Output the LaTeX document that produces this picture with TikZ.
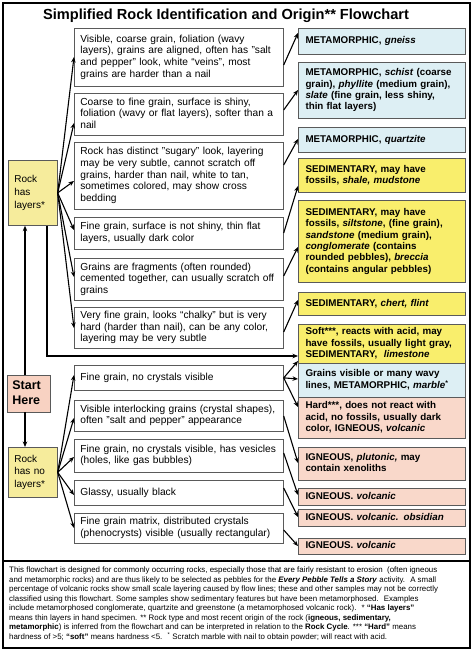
\documentclass[tikz,border=0pt]{standalone}
\usepackage{fontspec}
\setmainfont{Liberation Sans}
\usetikzlibrary{arrows.meta}
\definecolor{metablue}{HTML}{DDEFF4}
\definecolor{sedyel}{HTML}{F9EE6C}
\definecolor{layyel}{HTML}{F6EC9C}
\definecolor{igpink}{HTML}{F9D8CA}
\definecolor{startpink}{HTML}{F8D2C2}
\definecolor{boxline}{HTML}{5A5A5A}
\newcommand\bx[1]{\begin{tabular}{@{}l@{}}#1\end{tabular}}
\begin{document}
\begin{tikzpicture}[x=1pt,y=-1pt,
  midbox/.style={draw=boxline, line width=0.7pt, fill=white, anchor=north west,
    minimum width=209pt, text width=197pt, inner xsep=6pt, inner ysep=1pt, align=left,
    font=\fontsize{10.2}{11.6}\selectfont},
  resbox/.style={draw=boxline, line width=1pt, anchor=north west,
    minimum width=167pt, text width=153pt, inner xsep=7pt, inner ysep=1pt, align=left,
    font=\bfseries\fontsize{9.8}{11.4}\selectfont},
  meta/.style={resbox, fill=metablue},
  sed/.style={resbox, fill=sedyel},
  ign/.style={resbox, fill=igpink},
  arr/.style={-{Stealth[length=5.5pt,width=4.5pt]}, line width=1.1pt},
]
\useasboundingbox (0,0) rectangle (474,655);
\fill[white] (0,0) rectangle (474,655);
\draw[line width=1.4pt] (3,3) rectangle (470,648);
\draw[line width=2pt] (3,561) -- (470,561);

\node[font=\bfseries\fontsize{14.6}{17}\selectfont] (title) at (226,16)
  {Simplified Rock Identification and Origin** Flowchart};

% left column
\node[draw=boxline, line width=0.7pt, fill=layyel, anchor=north west, minimum width=49pt,
  minimum height=65pt, text width=37pt, inner xsep=6pt, align=left,
  font=\fontsize{10}{13}\selectfont] (L1) at (8,160) {\bx{Rock\\has\\layers*}};
\node[draw=boxline, line width=0.7pt, fill=startpink, anchor=north west, minimum width=43pt,
  minimum height=35pt, text width=33pt, inner xsep=5pt, align=left,
  font=\bfseries\fontsize{12.5}{15}\selectfont] (S) at (7,375) {\bx{Start\\Here}};
\node[draw=boxline, line width=0.7pt, fill=layyel, anchor=north west, minimum width=49pt,
  minimum height=50pt, text width=37pt, inner xsep=6pt, align=left,
  font=\fontsize{10}{12.8}\selectfont] (L2) at (8,447) {\bx{Rock\\has no\\layers*}};

% middle column
\node[midbox, minimum height=58pt] (m1) at (74,28) {\bx{Visible, coarse grain, foliation (wavy\\layers), grains are aligned, often has "salt\\and pepper" look, white “veins”, most\\grains are harder than a nail}};
\node[midbox, minimum height=42pt] (m2) at (74,93) {\bx{Coarse to fine grain, surface is shiny,\\foliation (wavy or flat layers), softer than a\\nail}};
\node[midbox, minimum height=67pt] (m3) at (74,142) {\bx{Rock has distinct "sugary" look, layering\\may be very subtle, cannot scratch off\\grains, harder than nail, white to tan,\\sometimes colored, may show cross\\bedding}};
\node[midbox, minimum height=32pt] (m4) at (74,217) {\bx{Fine grain, surface is not shiny, thin flat\\layers, usually dark color}};
\node[midbox, minimum height=42pt] (m5) at (74,258) {\bx{Grains are fragments (often rounded)\\cemented together, can usually scratch off\\grains}};
\node[midbox, minimum height=41pt] (m6) at (74,307) {\bx{Very fine grain, looks “chalky” but is very\\hard (harder than nail), can be any color,\\layering may be very subtle}};
\node[midbox, minimum height=25pt] (m7) at (74,365) {\bx{Fine grain, no crystals visible}};
\node[midbox, minimum height=31pt] (m8) at (74,400) {\bx{Visible interlocking grains (crystal shapes),\\often "salt and pepper" appearance}};
\node[midbox, minimum height=33pt] (m9) at (74,439) {\bx{Fine grain, no crystals visible, has vesicles\\(holes, like gas bubbles)}};
\node[midbox, minimum height=25pt] (m10) at (74,480) {\bx{Glassy, usually black}};
\node[midbox, minimum height=30pt] (m11) at (74,513) {\bx{Fine grain matrix, distributed crystals\\(phenocrysts) visible (usually rectangular)}};

% right column
\node[meta, minimum height=26pt] (R1) at (298,28) {\bx{METAMORPHIC, \textit{gneiss}}};
\node[meta, minimum height=56pt] (R2) at (298,62) {\bx{METAMORPHIC, \textit{schist} (coarse\\grain), \textit{phyllite} (medium grain),\\\textit{slate} (fine grain, less shiny,\\thin flat layers)}};
\node[meta, minimum height=25pt] (R3) at (298,127) {\bx{METAMORPHIC, \textit{quartzite}}};
\node[sed, minimum height=34pt] (R4) at (298,158) {\bx{SEDIMENTARY, may have\\fossils, \textit{shale, mudstone}}};
\node[sed, minimum height=82pt] (R5) at (298,200) {\bx{SEDIMENTARY, may have\\fossils, \textit{siltstone}, (fine grain),\\\textit{sandstone} (medium grain),\\\textit{conglomerate} (contains\\rounded pebbles), \textit{breccia}\\(contains angular pebbles)}};
\node[sed, minimum height=23pt] (R6) at (298,292) {\bx{SEDIMENTARY, \textit{chert, flint}}};
\node[sed, minimum height=39pt] (R7) at (298,324) {\bx{Soft***, reacts with acid, may\\have fossils, usually light gray,\\SEDIMENTARY, \ \textit{limestone}}};
\node[meta, minimum height=34pt] (R8) at (298,363) {\bx{Grains visible or many wavy\\lines, METAMORPHIC, \textit{marble}\textsuperscript{*}}};
\node[ign, minimum height=41pt] (R9) at (298,397) {\bx{Hard***, does not react with\\acid, no fossils, usually dark\\color, IGNEOUS, \textit{volcanic}}};
\node[ign, minimum height=33pt] (R10) at (298,447) {\bx{IGNEOUS, \textit{plutonic,} may\\contain xenoliths}};
\node[ign, minimum height=17pt] (R11) at (298,488) {\bx{IGNEOUS. \textit{volcanic}}};
\node[ign, minimum height=17pt] (R12) at (298,509) {\bx{IGNEOUS. \textit{volcanic. obsidian}}};
\node[ign, minimum height=16pt] (R13) at (298,538) {\bx{IGNEOUS. \textit{volcanic}}};

% footer
\node[anchor=north west, inner sep=0pt, align=left, font=\fontsize{7.9}{9.5}\selectfont] (foot) at (9,566)
{\begin{tabular}{@{}l@{}}
This flowchart is designed for commonly occurring rocks, especially those that are fairly resistant to erosion \ (often igneous\\
and metamorphic rocks) and are thus likely to be selected as pebbles for the \textbf{\textit{Every Pebble Tells a Story}} activity. \ A small\\
percentage of volcanic rocks show small scale layering caused by flow lines; these and other samples may not be correctly\\
classified using this flowchart. Some samples show sedimentary features but have been metamorphosed. \ Examples\\
include metamorphosed conglomerate, quartzite and greenstone (a metamorphosed volcanic rock). \ * \textbf{“Has layers”}\\
means thin layers in hand specimen. ** Rock type and most recent origin of the rock (\textbf{igneous, sedimentary,}\\
\textbf{metamorphic}) is inferred from the flowchart and can be interpreted in relation to the \textbf{Rock Cycle}. *** \textbf{“Hard”} means\\
hardness of >5; \textbf{“soft”} means hardness <5. \ \textsuperscript{*} Scratch marble with nail to obtain powder; will react with acid.
\end{tabular}};

% connectors: start
\draw[arr] (S.north -| 25,0) -- (L1.south -| 25,0);
\draw[arr] (S.south -| 25,0) -- (L2.north -| 25,0);
\draw[arr, line width=1.6pt] (L1.south -| 47,0) -- (47,356) -- (R7.west |- 0,356);

% layered fan
\draw[arr] (L1.east) -- (m1.west |- 0,57);
\draw[arr] (L1.east) -- (m2.west |- 0,123);
\draw[arr] (L1.east) -- (m3.west |- 0,181);
\draw[arr] (L1.east) -- (m4.west |- 0,230);
\draw[arr] (L1.east) -- (m5.west |- 0,277);
\draw[arr] (L1.east) -- (m6.west |- 0,328);

% non-layered fan
\draw[arr] (L2.east) -- (m7.west |- 0,375);
\draw[arr] (L2.east) -- (m8.west |- 0,418);
\draw[arr] (L2.east) -- (m9.west |- 0,457);
\draw[arr] (L2.east) -- (m10.west |- 0,495);
\draw[arr] (L2.east) -- (m11.west |- 0,528);

% to results
\draw[arr] (m1.east |- 0,65) -- (R1.west |- 0,33);
\draw[arr] (m2.east |- 0,110) -- (R2.west |- 0,90);
\draw[arr] (m3.east |- 0,165) -- (R3.west |- 0,139);
\draw[arr] (m4.east |- 0,233) -- (R4.west |- 0,186);
\draw[arr] (m5.east |- 0,276) -- (R5.west |- 0,247);
\draw[arr] (m6.east |- 0,332) -- (R6.west |- 0,300);
\draw[arr] (m7.east) -- (R7.west |- 0,361);
\draw[arr] (m7.east) -- (R8.west |- 0,379);
\draw[arr] (m7.east) -- (R9.west |- 0,407);
\draw[arr] (m8.east |- 0,416) -- (R10.west |- 0,463);
\draw[arr] (m9.east |- 0,453) -- (R11.west |- 0,495);
\draw[arr] (m10.east |- 0,488) -- (R12.west |- 0,517);
\draw[arr] (m11.east |- 0,530) -- (R13.west |- 0,546);
\end{tikzpicture}
\end{document}
